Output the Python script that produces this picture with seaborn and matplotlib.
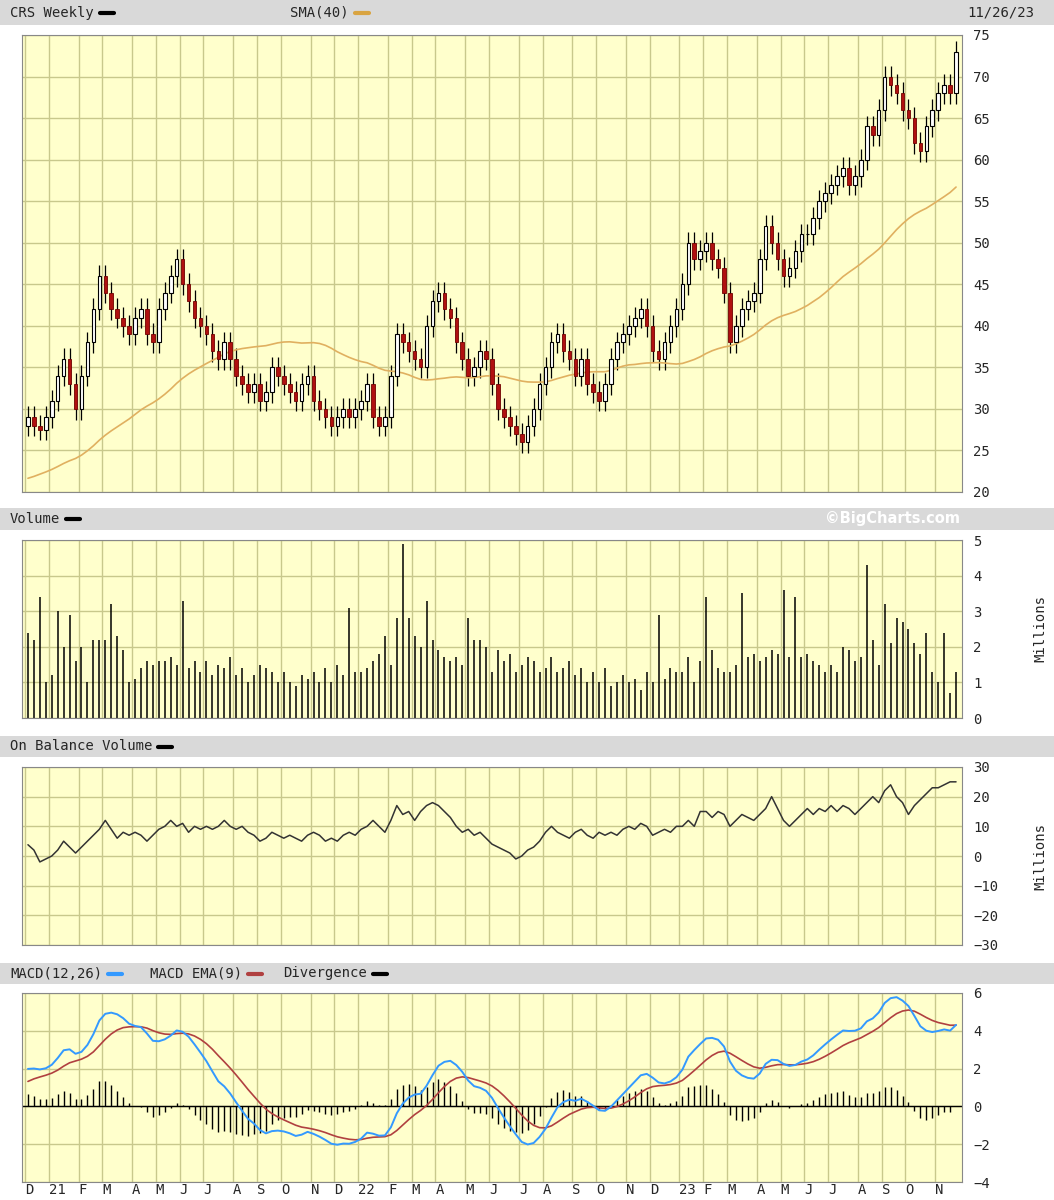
import numpy as np
import pandas as pd
import matplotlib
matplotlib.use("Agg")
import matplotlib.pyplot as plt
import seaborn as sns

# ---- data (weekly) ----
closes_2020 = [22, 19, 17, 18, 19, 20, 21, 20, 19, 18, 17, 18, 19, 20, 21, 22, 21, 20, 19,
               20, 21, 22, 23, 22, 21, 20, 21, 22, 23, 24, 23, 22, 21, 22, 24, 26, 27, 28, 29, 28]
closes = [
    29, 28, 27.5, 29,
    31, 34, 36, 33, 30, 34, 38, 42, 46, 44, 42, 41, 40, 39, 41, 42, 39, 38,
    42, 44, 46, 48, 45, 43, 41, 40, 39, 37, 36, 38, 36, 34, 33, 32, 33,
    31, 32, 35, 34, 33, 32, 31, 33, 34, 31, 30, 29, 28, 29, 30, 29, 30,
    31, 33, 29, 28, 29, 34, 39, 38, 37, 36, 35, 40, 43, 44, 42, 41, 38, 36,
    34, 35, 37, 36, 33, 30, 29, 28, 27, 26, 28, 30, 33, 35, 38, 39, 37, 36,
    34, 36, 33, 32, 31, 33, 36, 38, 39, 40, 41, 42, 40, 37, 36, 38, 40, 42,
    45, 50, 48, 49, 50, 48, 47, 44, 38, 40, 42, 43, 44, 48, 52, 50, 48,
    46, 47, 49, 51, 51, 53, 55, 56, 57, 58, 59, 57, 58, 60, 64, 63, 66,
    70, 69, 68, 66, 65, 62, 61, 64, 66, 68, 69, 68, 73,
]
volumes = [
    2.4, 2.2, 3.4, 1.0,
    1.2, 3.0, 2.0, 2.9, 1.6, 2.0, 1.0, 2.2, 2.2, 2.2, 3.2, 2.3, 1.9, 1.0, 1.1, 1.4, 1.6, 1.5,
    1.6, 1.6, 1.7, 1.5, 3.3, 1.4, 1.6, 1.3, 1.6, 1.2, 1.5, 1.4, 1.7, 1.2, 1.4, 1.0, 1.2,
    1.5, 1.4, 1.3, 1.0, 1.3, 1.0, 0.9, 1.2, 1.1, 1.3, 1.0, 1.4, 1.0, 1.5, 1.2, 3.1, 1.3,
    1.3, 1.4, 1.6, 1.8, 2.3, 1.5, 2.8, 4.9, 2.8, 2.3, 2.0, 3.3, 2.2, 1.9, 1.7, 1.6, 1.7, 1.5,
    2.8, 2.2, 2.2, 2.0, 1.3, 1.9, 1.6, 1.8, 1.3, 1.5, 1.7, 1.6, 1.3, 1.4, 1.7, 1.3, 1.4, 1.6,
    1.2, 1.4, 1.0, 1.3, 1.0, 1.4, 0.9, 1.0, 1.2, 1.0, 1.1, 0.8, 1.3, 1.0, 2.9, 1.1, 1.4, 1.3,
    1.3, 1.7, 1.0, 1.6, 3.4, 1.9, 1.4, 1.3, 1.3, 1.5, 3.5, 1.7, 1.8, 1.6, 1.7, 1.9, 1.8,
    3.6, 1.7, 3.4, 1.7, 1.8, 1.6, 1.5, 1.3, 1.5, 1.3, 2.0, 1.9, 1.6, 1.7, 4.3, 2.2, 1.5,
    3.2, 2.1, 2.8, 2.7, 2.5, 2.1, 1.8, 2.4, 1.3, 1.0, 2.4, 0.7, 1.3,
]
obv_values = [
    3.8, 2.0, -2, -1,
    0, 2, 5, 3, 1, 3, 5, 7, 9, 12, 9, 6, 8, 7, 8, 7, 5, 7,
    9, 10, 12, 10, 11, 8, 10, 9, 10, 9, 10, 12, 10, 9, 10, 8, 7,
    5, 6, 8, 7, 6, 7, 6, 5, 7, 8, 7, 5, 6, 5, 7, 8, 7,
    9, 10, 12, 10, 8, 12, 17, 14, 15, 12, 15, 17, 18, 17, 15, 13, 10, 8,
    9, 7, 8, 6, 4, 3, 2, 1, -1, 0, 2, 3, 5, 8, 10, 8, 7, 6,
    8, 9, 7, 6, 8, 7, 8, 7, 9, 10, 9, 11, 10, 7, 8, 9, 8, 10,
    10, 12, 10, 15, 15, 13, 15, 14, 10, 12, 14, 13, 12, 14, 16, 20, 16,
    12, 10, 12, 14, 16, 14, 16, 15, 17, 15, 17, 16, 14, 16, 18, 20, 18,
    22, 24, 20, 18, 14, 17, 19, 21, 23, 23, 24, 25, 25,
]
month_labels = ["D", "21", "F", "M", "A", "M", "J", "J", "A", "S", "O", "N",
                "D", "22", "F", "M", "A", "M", "J", "J", "A", "S", "O", "N",
                "D", "23", "F", "M", "A", "M", "J", "J", "A", "S", "O", "N"]
weeks_per_month = [4, 5, 4, 5, 4, 4, 4, 5, 4, 4, 5, 4, 4,
                   5, 4, 4, 5, 4, 5, 4, 5, 4, 5, 4, 5,
                   4, 4, 5, 4, 4, 4, 5, 4, 4, 5, 4]

n = min(len(closes), len(volumes), len(obv_values))
closes = closes[:n]
volumes = volumes[:n]
obv = np.array(obv_values[:n], dtype=float)

allc = pd.Series(closes_2020 + closes, dtype=float)
sma = allc.rolling(40, min_periods=1).mean().iloc[len(closes_2020):].values
ema12 = allc.ewm(span=12, adjust=False).mean()
ema26 = allc.ewm(span=26, adjust=False).mean()
macd_all = ema12 - ema26
sig_all = macd_all.ewm(span=9, adjust=False).mean()
macd = macd_all.iloc[len(closes_2020):].values
sig = sig_all.iloc[len(closes_2020):].values
div = macd - sig

c = np.array(closes, dtype=float)
o = np.r_[closes_2020[-1], c[:-1]]
hi = np.maximum(o, c) + 1.3
lo = np.minimum(o, c) - 1.3

x = np.arange(n)
month_starts = np.cumsum([0] + weeks_per_month[:-1]) - 0.5

# ---- figure ----
sns.set_style("white")
plt.rcParams['font.family'] = ['DejaVu Sans Mono', 'DejaVu Sans']
W, H = 1054, 1200
fig = plt.figure(figsize=(W / 100, H / 100), dpi=100)
renderer = fig.canvas.get_renderer()
BG = "#ffffcc"
GRID = "#c8c88c"
HDR = "#d9d9d9"
FS = 10

def px_axes(x0, y0, x1, y1):
    return fig.add_axes([x0 / W, 1 - y1 / H, (x1 - x0) / W, (y1 - y0) / H])

def header(y0, y1, items):
    hax = px_axes(0, y0, W, y1)
    hax.set_facecolor(HDR)
    hax.set_xlim(0, W); hax.set_ylim(0, 1)
    hax.set_xticks([]); hax.set_yticks([])
    for s in hax.spines.values():
        s.set_visible(False)
    for xpos, txt, col in items:
        t = hax.text(xpos, 0.5, txt, va="center", ha="left", fontsize=FS)
        x_end = t.get_window_extent(renderer).x1
        hax.plot([x_end + 6, x_end + 20], [0.5, 0.5], color=col, lw=3)
    return hax

def style(ax, ylim, yticks):
    ax.set_facecolor(BG)
    ax.set_xlim(-1, n)
    ax.set_ylim(*ylim)
    ax.set_yticks(yticks)
    ax.set_xticks(month_starts)
    ax.set_xticklabels([])
    ax.grid(True, color=GRID, lw=1)
    ax.set_axisbelow(True)
    ax.yaxis.tick_right()
    ax.tick_params(axis="y", length=0, labelsize=FS, pad=8)
    ax.tick_params(axis="x", length=0)
    for s in ax.spines.values():
        s.set_color("#888888")

# price panel
header(0, 25, [(10, "CRS Weekly", "black"), (290, "SMA(40)", "#d9a441")])
fig.text(1 - 20 / W, 1 - 12 / H, "11/26/23", ha="right", va="center", fontsize=FS)
ax1 = px_axes(22, 35, 962, 492)
style(ax1, (20, 75), range(20, 76, 5))
ax1.vlines(x, lo, hi, color="black", lw=0.9, zorder=2)
up = c >= o
ax1.bar(x[up], (c - o)[up], bottom=o[up], width=0.6, color="white", edgecolor="black", lw=0.8, zorder=3)
ax1.bar(x[~up], (o - c)[~up], bottom=c[~up], width=0.6, color="#b01010", edgecolor="#700000", lw=0.6, zorder=3)
sns.lineplot(x=x, y=sma, ax=ax1, color="#e0b060", lw=1.2)

# volume panel
header(508, 530, [(10, "Volume", "black")])
fig.text(960 / W, 1 - 519 / H, "©BigCharts.com", ha="right", va="center", fontsize=10.5,
         color="white", fontweight="bold", family="DejaVu Sans")
ax2 = px_axes(22, 540, 962, 718)
style(ax2, (0, 5), range(0, 6))
ax2.vlines(x, 0, volumes, color="black", lw=1.1)
fig.text(1040 / W, 1 - 629 / H, "Millions", rotation=90, ha="center", va="center", fontsize=FS)

# OBV panel
header(736, 757, [(10, "On Balance Volume", "black")])
ax3 = px_axes(22, 767, 962, 945)
style(ax3, (-30, 30), range(-30, 31, 10))
sns.lineplot(x=x, y=obv, ax=ax3, color="#333333", lw=1.1)
fig.text(1040 / W, 1 - 856 / H, "Millions", rotation=90, ha="center", va="center", fontsize=FS)

# MACD panel
header(963, 984, [(10, "MACD(12,26)", "#3399ff"), (150, "MACD EMA(9)", "#b04040"), (283, "Divergence", "black")])
ax4 = px_axes(22, 993, 962, 1182)
style(ax4, (-4, 6), range(-4, 7, 2))
ax4.vlines(x, 0, div, color="black", lw=1)
ax4.axhline(0, color="black", lw=1)
sns.lineplot(x=x, y=sig, ax=ax4, color="#b04040", lw=1.2)
sns.lineplot(x=x, y=macd, ax=ax4, color="#3399ff", lw=1.4)
ax4.set_xticklabels(month_labels, fontsize=FS)
ax4.tick_params(axis="x", pad=1)
for t in ax4.get_xticklabels():
    t.set_horizontalalignment("left")
for a in (ax1, ax2, ax3, ax4):
    a.set_xlabel(""); a.set_ylabel("")

fig.savefig("out.png", dpi=100, facecolor="white")
